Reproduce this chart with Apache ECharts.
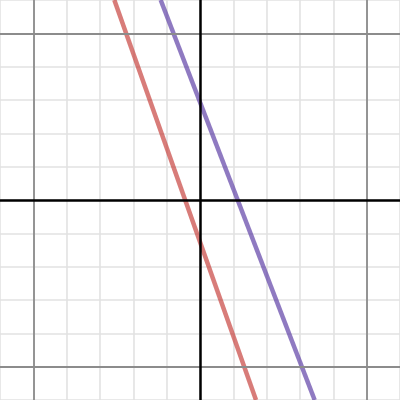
<!DOCTYPE html>
<html><head><meta charset="utf-8">
<script src="https://cdn.jsdelivr.net/npm/echarts@6/dist/echarts.min.js"></script>
<style>html,body{margin:0;padding:0;background:#fff}#c{width:400px;height:400px}</style>
</head><body><div id="c"></div>
<script>
const xRange = [-6, 6];
const yRange = [-6, 6];
const majorLines = [-5, 5];
const redLine = [[-2.57, 6], [1.68, -6]];
const purpleLine = [[-1.18, 6], [3.44, -6]];

const chart = echarts.init(document.getElementById('c'));
const axisCommon = {
  type: 'value', interval: 1,
  axisLabel: { show: false }, axisTick: { show: false },
  axisLine: { show: false },
  splitLine: { show: true, lineStyle: { color: '#e2e2e2', width: 1.6 } }
};
chart.setOption({
  animation: false,
  grid: { left: -2, right: -2, top: -2, bottom: -2 },
  xAxis: Object.assign({ min: xRange[0], max: xRange[1] }, axisCommon),
  yAxis: Object.assign({ min: yRange[0], max: yRange[1] }, axisCommon),
  series: [
    {
      type: 'line', data: [], silent: true,
      markLine: {
        silent: true, symbol: 'none', label: { show: false },
        lineStyle: { color: '#8c8c8c', width: 1.8, type: 'solid' },
        data: majorLines.map(v => ({ xAxis: v })).concat(majorLines.map(v => ({ yAxis: v })))
      }
    },
    {
      type: 'line', data: [], silent: true,
      markLine: {
        silent: true, symbol: 'none', label: { show: false },
        lineStyle: { color: '#000', width: 2.5, type: 'solid' },
        data: [{ xAxis: 0 }, { yAxis: 0 }]
      }
    },
    {
      type: 'line', data: redLine, showSymbol: false,
      lineStyle: { color: '#c74440', width: 4.5, opacity: 0.7 }
    },
    {
      type: 'line', data: purpleLine, showSymbol: false,
      lineStyle: { color: '#6042a6', width: 4.5, opacity: 0.7 }
    }
  ]
});
</script></body></html>
